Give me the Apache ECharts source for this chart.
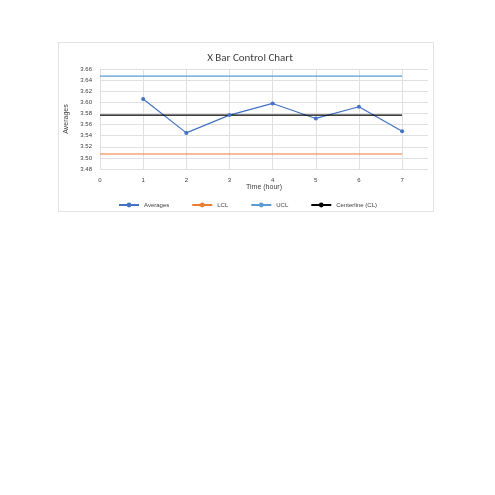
<!DOCTYPE html><html><head><meta charset="utf-8"><script src="https://cdn.jsdelivr.net/npm/echarts@6/dist/echarts.min.js"></script>
<style>body{margin:0;background:#fff}#c{width:495px;height:495px}#b{position:absolute;left:58px;top:42px;width:374px;height:168px;border:1px solid #e3e3e3}</style></head><body><div id="b"></div><div id="c" style="position:absolute;left:0;top:0"></div>
<script>
const hours=[1,2,3,4,5,6,7];
const averages=[3.606,3.545,3.577,3.598,3.571,3.592,3.548];
const lcl=3.507, ucl=3.647, cl=3.577;
const xs=[0,7];
const f="Calibri, 'Liberation Sans', sans-serif";
const ch=echarts.init(document.getElementById('c'));
ch.setOption({
 animation:false,
 title:{text:'X Bar Control Chart',left:245,textAlign:'center',top:48,textStyle:{fontSize:11,fontWeight:'normal',color:'#404040',fontFamily:f}},
 grid:{left:100,right:67,top:69,bottom:326},
 legend:{top:197,left:'center',itemWidth:20,itemHeight:6,itemGap:22,textStyle:{fontSize:6,color:'#404040'},
  data:['Averages','LCL','UCL','Centerline (CL)']},
 xAxis:{type:'value',min:0,max:7.6,interval:1,name:'Time (hour)',nameLocation:'middle',nameGap:14,nameTextStyle:{fontSize:7,color:'#404040'},
  axisLine:{show:false},axisTick:{show:false},axisLabel:{fontSize:6,color:'#404040',showMaxLabel:false},splitLine:{showMaxLine:false,lineStyle:{color:'#e0e0e0'}}},
 yAxis:{type:'value',min:3.48,max:3.66,interval:0.02,name:'Averages',nameLocation:'middle',nameGap:20,nameTextStyle:{fontSize:7,color:'#404040'},
  axisLine:{show:false},axisTick:{show:false},axisLabel:{fontSize:6,color:'#404040',formatter:v=>v.toFixed(2)},splitLine:{lineStyle:{color:'#e0e0e0'}}},
 series:[
  {name:'Averages',type:'line',data:hours.map((h,i)=>[h,averages[i]]),color:'#4472c4',lineStyle:{width:1.2},symbol:'circle',symbolSize:4},
  {name:'LCL',type:'line',data:xs.map(x=>[x,lcl]),color:'#ed7d31',lineStyle:{width:1.2},symbol:'none'},
  {name:'UCL',type:'line',data:xs.map(x=>[x,ucl]),color:'#5b9bd5',lineStyle:{width:1.2},symbol:'none'},
  {name:'Centerline (CL)',type:'line',data:xs.map(x=>[x,cl]),color:'#000',lineStyle:{width:1.4},symbol:'none'}
 ]
});
</script></body></html>
